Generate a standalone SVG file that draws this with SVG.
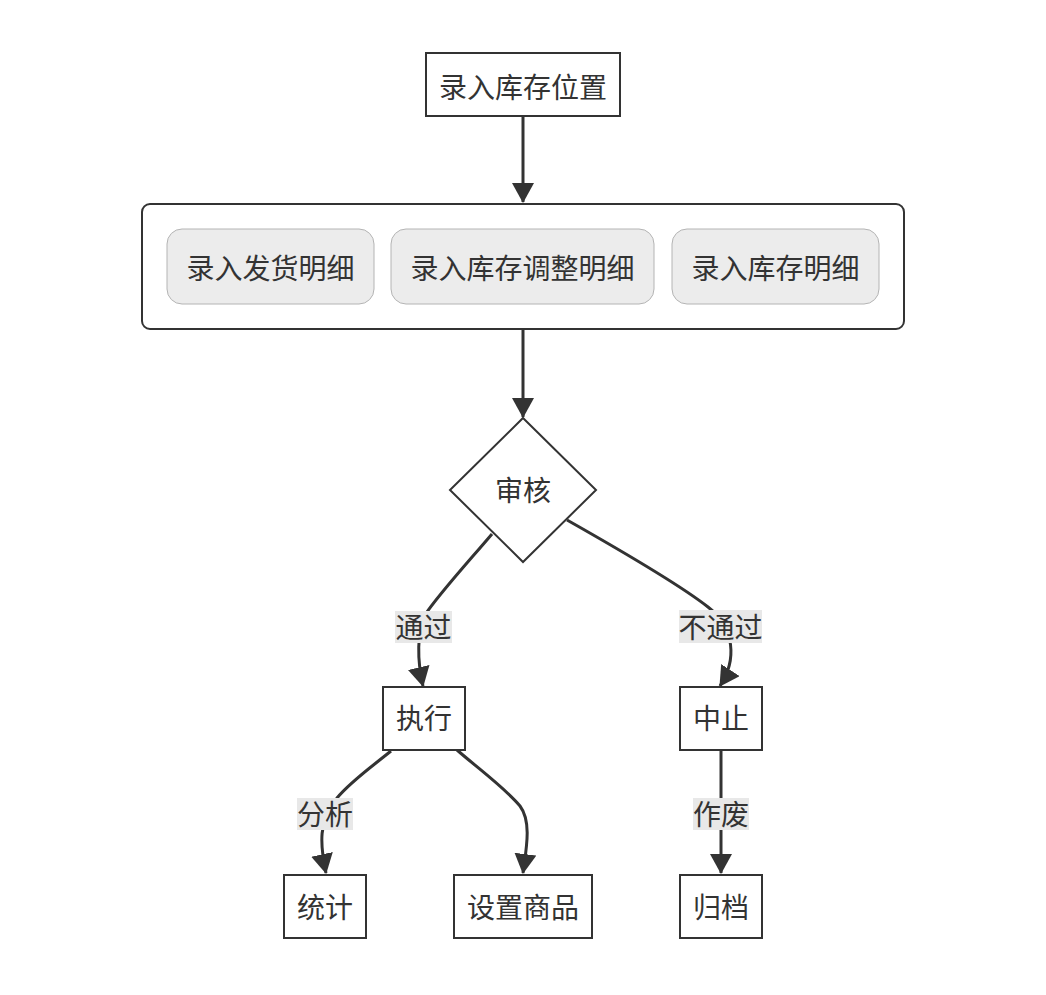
<svg xmlns="http://www.w3.org/2000/svg" width="1046" height="995" viewBox="0 0 1046 995">
<style>
.bg{fill:#ffffff}
.node rect,.node polygon{fill:#ffffff;stroke:#333333;stroke-width:2}
.inner rect{fill:#ececec;stroke:#b4b4b4;stroke-width:1}
.cluster{fill:#ffffff;stroke:#333333;stroke-width:2}
text{font-family:"Noto Sans CJK SC","Noto Sans",sans-serif;font-size:28px;fill:#333333;text-anchor:middle;dominant-baseline:central}
.edge{fill:none;stroke:#333333;stroke-width:3}
.lbl{fill:#e8e8e8;stroke:none}
</style>
<defs>
<marker id="arr" viewBox="0 0 20 22" refX="19" refY="11" markerWidth="20" markerHeight="22" markerUnits="userSpaceOnUse" orient="auto">
<path d="M0,0 L20,11 L0,22 z" fill="#333333"/>
</marker>
</defs>
<rect class="bg" x="0" y="0" width="1046" height="995"/>

<g id="connectors">
<path class="edge" d="M523,116 L523,202" marker-end="url(#arr)"/>
<path class="edge" d="M523,329 L523,417" marker-end="url(#arr)"/>
<path class="edge" d="M492,534 C470,560 438,595 425,615 C417,632 417,660 423,686" marker-end="url(#arr)"/>
<path class="edge" d="M567,520 C620,550 680,585 708,607 C735,628 737,660 720,686" marker-end="url(#arr)"/>
<path class="edge" d="M391,751 C370,768 350,782 337,798 C318,820 320,845 326,873" marker-end="url(#arr)"/>
<path class="edge" d="M457,750 C480,770 505,788 520,806 C532,822 526,850 523,873" marker-end="url(#arr)"/>
<path class="edge" d="M721,750 L721,873" marker-end="url(#arr)"/>
<g id="edge-labels">
<rect class="lbl" x="395" y="611" width="57" height="32"/>
<text x="423.5" y="626">通过</text>
<rect class="lbl" x="679" y="610" width="83" height="33"/>
<text x="720.5" y="626">不通过</text>
<rect class="lbl" x="297" y="798" width="56" height="32"/>
<text x="325" y="813">分析</text>
<rect class="lbl" x="693" y="798" width="56" height="32"/>
<text x="721" y="813">作废</text>
</g>
</g>

<g id="n-top" class="node">
<rect x="426" y="53" width="194" height="63"/>
<text x="523" y="85.5">录入库存位置</text>
</g>

<g id="cluster">
<rect class="cluster" x="142" y="204" width="762" height="125" rx="8" ry="8"/>
<g id="n-fahuo" class="inner">
<rect x="167" y="229" width="207" height="75" rx="15" ry="15"/>
<text x="270.5" y="267">录入发货明细</text>
</g>
<g id="n-tiaozheng" class="inner">
<rect x="391" y="229" width="263" height="75" rx="15" ry="15"/>
<text x="522.5" y="267">录入库存调整明细</text>
</g>
<g id="n-kucun" class="inner">
<rect x="672" y="229" width="207" height="75" rx="15" ry="15"/>
<text x="775.5" y="267">录入库存明细</text>
</g>
</g>

<g id="n-shenhe" class="node">
<polygon points="523,418 596,490 523,562 450,490"/>
<text x="523" y="489">审核</text>
</g>

<g id="n-zhixing" class="node">
<rect x="383" y="687" width="82" height="63"/>
<text x="424" y="717">执行</text>
</g>

<g id="n-zhongzhi" class="node">
<rect x="680" y="687" width="82" height="63"/>
<text x="721" y="717">中止</text>
</g>

<g id="n-tongji" class="node">
<rect x="284" y="875" width="82" height="63"/>
<text x="325" y="906">统计</text>
</g>

<g id="n-shezhi" class="node">
<rect x="454" y="875" width="138" height="63"/>
<text x="523" y="906">设置商品</text>
</g>

<g id="n-guidang" class="node">
<rect x="680" y="875" width="82" height="63"/>
<text x="721" y="906">归档</text>
</g>
</svg>
